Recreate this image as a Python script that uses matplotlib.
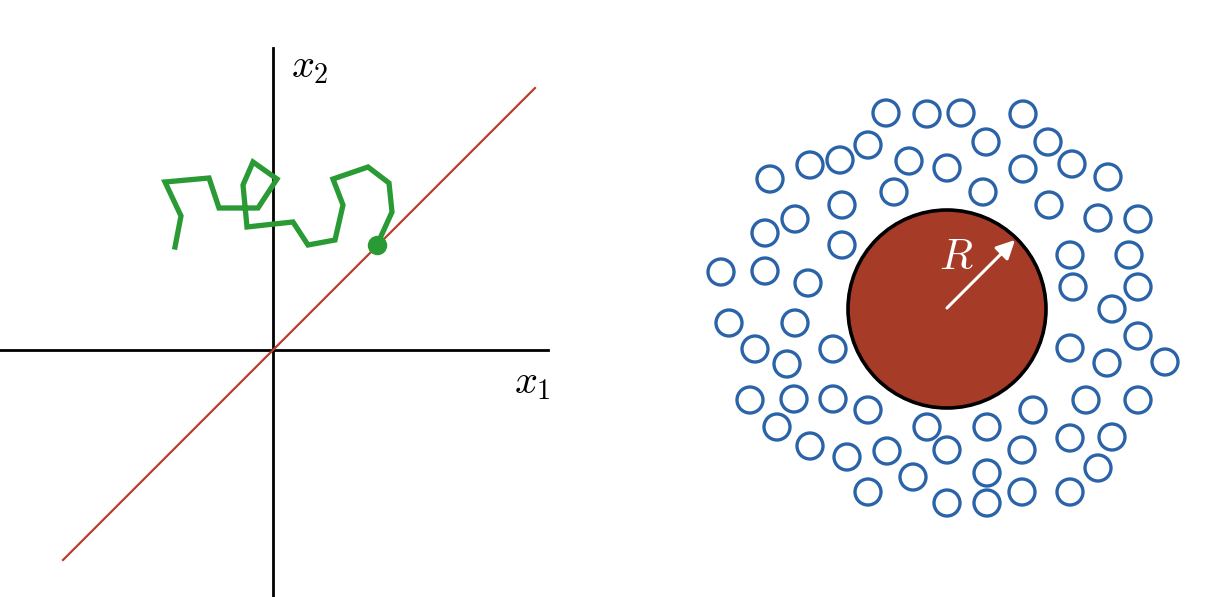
import matplotlib
matplotlib.use("Agg")
import matplotlib.pyplot as plt
from matplotlib.patches import Circle, FancyArrowPatch

plt.rcParams["mathtext.fontset"] = "cm"

# ── Left panel: random walk reaching the diagonal ───────────────────────────
walk_x = [175, 181, 165, 209, 219, 245, 258, 277, 253, 243, 247, 274, 293,
          308, 335, 343, 333, 368, 389, 392, 377]
walk_y = [247, 216, 182, 178, 208, 208, 208, 179, 162, 185, 227, 224, 222,
          245, 240, 205, 179, 167, 183, 212, 245]

origin = (273, 350)
diag_x = [63, 535]
diag_y = [560, 88]

# ── Right panel: particles around a sphere of radius R ──────────────────────
particle_x = [886, 927, 961, 1023, 868, 986, 1048, 840, 810, 909, 947, 1023,
              1072, 770, 894, 983, 1108, 842, 1049, 795, 1098, 1138, 765, 842,
              1070, 1129, 721, 765, 808, 1073, 1138, 1112, 729, 795, 1138, 755,
              833, 787, 1070, 1107, 1165, 750, 794, 833, 868, 777, 810, 847,
              887, 927, 913, 868, 947, 947, 987, 987, 987, 1022, 1022, 1033,
              1070, 1070, 1086, 1112, 1098, 1138]
particle_y = [113, 114, 113, 114, 145, 142, 142, 160, 165, 161, 168, 169,
              164, 179, 192, 192, 177, 205, 205, 219, 218, 219, 233, 245,
              255, 255, 272, 271, 283, 287, 287, 309, 323, 323, 336, 349,
              349, 364, 348, 363, 362, 400, 399, 399, 410, 427, 446, 457,
              451, 427, 477, 492, 450, 503, 427, 473, 503, 450, 492, 410,
              438, 492, 400, 437, 468, 400]
particle_r = 13

sphere_center = (947, 309)
sphere_r = 99

fig = plt.figure(figsize=(12.16, 5.97), dpi=100)
ax = fig.add_axes([0, 0, 1, 1])
ax.set_xlim(0, 1216)
ax.set_ylim(597, 0)
ax.axis("off")

# axes of the left panel
ax.plot([origin[0], origin[0]], [48, 597], color="black", lw=2)
ax.plot([0, 548], [origin[1], origin[1]], color="black", lw=2)
ax.plot(diag_x, diag_y, color="#b8402a", lw=1.6)

ax.plot(walk_x, walk_y, color="#2a9a35", lw=3.8, solid_joinstyle="miter")
ax.plot(walk_x[-1], walk_y[-1], "o", color="#2a9a35", ms=13)

ax.text(310, 66, r"$x_2$", fontsize=29, ha="center", va="center")
ax.text(532, 382, r"$x_1$", fontsize=29, ha="center", va="center")

for px, py in zip(particle_x, particle_y):
    ax.add_patch(Circle((px, py), particle_r, facecolor="white",
                        edgecolor="#2a63a8", lw=2.4))

ax.add_patch(Circle(sphere_center, sphere_r, facecolor="#a63c28",
                    edgecolor="black", lw=2.6))
ax.add_patch(FancyArrowPatch((945, 310), (1017, 238), color="white",
                             arrowstyle="-|>,head_length=7,head_width=3.5",
                             lw=2.2, mutation_scale=1.6))
ax.text(956, 257, r"$R$", fontsize=31, color="white", ha="center", va="center")

fig.savefig("out.png", dpi=100, facecolor="white")
plt.close(fig)
